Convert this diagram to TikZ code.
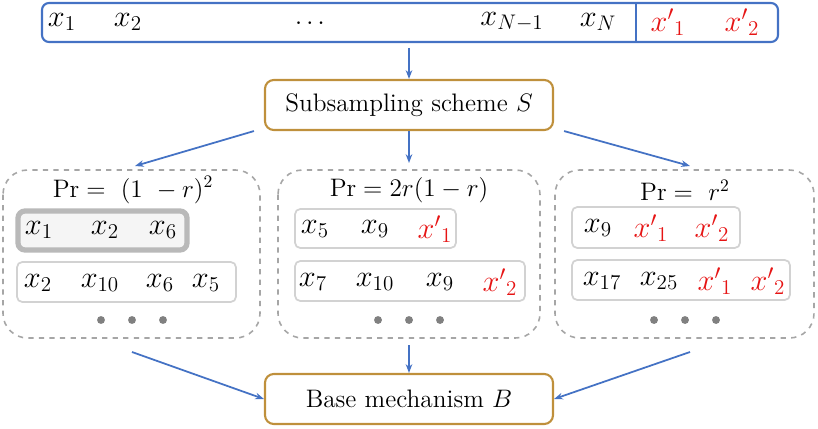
\documentclass[tikz,border=0pt]{standalone}
\usetikzlibrary{positioning, arrows.meta}
\definecolor{blueline}{RGB}{68,114,196}
\definecolor{goldline}{RGB}{191,144,60}
\definecolor{redtext}{RGB}{230,20,20}
\tikzset{
  flow/.style={-{Stealth[length=5pt]}, blueline, line width=1pt},
  scheme/.style={draw=goldline, line width=1.2pt, rounded corners=5pt, minimum width=288*0.02cm, minimum height=50*0.02cm, font=\Large},
  panel/.style={draw=gray!70, dashed, line width=0.9pt, rounded corners=14pt},
  sample/.style={draw=gray!35, line width=1pt, rounded corners=3pt},
  item/.style={font=\LARGE},
  fresh/.style={font=\LARGE, text=redtext},
  dot/.style={circle, fill=gray, inner sep=0pt, minimum size=4.5pt}
}
\begin{document}
\begin{tikzpicture}[x=0.02cm, y=-0.02cm]
\useasboundingbox (0,0) rectangle (818,429);

% input dataset
\draw[blueline, line width=1.2pt, rounded corners=4pt] (42,3) rectangle (778,42);
\draw[blueline, line width=1.2pt] (636,3) -- (636,42);
\node[item] (d1) at (62,22) {$x_1$};
\node[item] (d2) at (128,22) {$x_2$};
\node[font=\Large] (dd) at (310,24) {$\cdots$};
\node[item] (dm) at (512,22) {$x_{N-1}$};
\node[item] (dn) at (598,22) {$x_N$};
\node[fresh] (p1) at (668,22) {$x'{}_1$};
\node[fresh] (p2) at (742,22) {$x'{}_2$};
\coordinate (dbot) at (409,48);

% mechanisms
\node[scheme] (sub) at (409,105) {Subsampling scheme $S$};
\node[scheme] (base) at (409,399) {Base mechanism $B$};

% panels
\draw[panel] (3,170) rectangle (260,338);
\draw[panel] (278,170) rectangle (540,338);
\draw[panel] (555,170) rectangle (814,338);
\coordinate (ltop) at (135,166);
\coordinate (mtop) at (409,163);
\coordinate (rtop) at (690,166);
\coordinate (lbot) at (132,352);
\coordinate (mbot) at (409,345);
\coordinate (rbot) at (690,352);
\node[font=\Large] (prl) at (133,190) {$\mathrm{Pr} =\ (1\ -r)^2$};
\node[font=\Large] (prm) at (409,190) {$\mathrm{Pr} = 2r(1-r)$};
\node[font=\Large] (prr) at (685,190) {$\mathrm{Pr} = \ r^2$};

% samples, left
\draw[gray!55, line width=3pt, rounded corners=4pt, fill=gray!8] (18,211) rectangle (187,250);
\node[item] (a1) at (39,230) {$x_1$};
\node[item] (a2) at (105,230) {$x_2$};
\node[item] (a3) at (163,230) {$x_6$};
\draw[sample] (17,262) rectangle (236,302);
\node[item] (b1) at (38,283) {$x_2$};
\node[item] (b2) at (100,283) {$x_{10}$};
\node[item] (b3) at (160,283) {$x_6$};
\node[item] (b4) at (206,283) {$x_5$};

% samples, middle
\draw[sample] (295,209) rectangle (456,248);
\node[item] (c1) at (315,229) {$x_5$};
\node[item] (c2) at (375,229) {$x_9$};
\node[fresh] (c3) at (435,229) {$x'{}_1$};
\draw[sample] (295,261) rectangle (525,301);
\node[item] (e1) at (313,282) {$x_7$};
\node[item] (e2) at (375,282) {$x_{10}$};
\node[item] (e3) at (440,282) {$x_9$};
\node[fresh] (e4) at (500,282) {$x'{}_2$};

% samples, right
\draw[sample] (572,207) rectangle (740,248);
\node[item] (f1) at (598,228) {$x_9$};
\node[fresh] (f2) at (651,228) {$x'{}_1$};
\node[fresh] (f3) at (712,228) {$x'{}_2$};
\draw[sample] (572,260) rectangle (790,300);
\node[item] (g1) at (602,281) {$x_{17}$};
\node[item] (g2) at (659,281) {$x_{25}$};
\node[fresh] (g3) at (715,281) {$x'{}_1$};
\node[fresh] (g4) at (768,281) {$x'{}_2$};

% dots
\foreach \c in {132,409,685}
  \foreach \d in {-31,0,31}
    \node[dot] at (\c+\d,320) {};

% arrows
\draw[flow] (dbot) -- (sub);
\draw[flow] (sub.south west) ++(-10,0) -- (ltop);
\draw[flow] (sub) -- (mtop);
\draw[flow] (sub.south east) ++(10,0) -- (rtop);
\draw[flow] (lbot) -- (base.west);
\draw[flow] (mbot) -- (base);
\draw[flow] (rbot) -- (base.east);
\end{tikzpicture}
\end{document}
